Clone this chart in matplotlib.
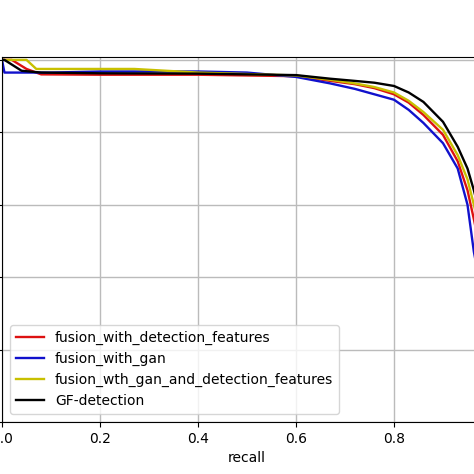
import numpy as np
import matplotlib
matplotlib.use("Agg")
import matplotlib.pyplot as plt

# precision-recall curves
red_r = [0.0, 0.02, 0.05, 0.08, 0.2, 0.4, 0.6, 0.67, 0.72, 0.76, 0.8, 0.83, 0.86, 0.9, 0.93, 0.95, 0.963, 0.98, 1.0]
red_p = [1.0, 1.0, 0.975, 0.96, 0.959, 0.959, 0.955, 0.942, 0.933, 0.922, 0.905, 0.882, 0.848, 0.793, 0.72, 0.64, 0.56, 0.45, 0.3]
blue_r = [0.0, 0.005, 0.1, 0.2, 0.4, 0.5, 0.6, 0.67, 0.72, 0.76, 0.8, 0.83, 0.86, 0.9, 0.93, 0.95, 0.963, 0.98, 1.0]
blue_p = [1.0, 0.965, 0.965, 0.968, 0.968, 0.965, 0.953, 0.935, 0.92, 0.905, 0.89, 0.862, 0.826, 0.77, 0.70, 0.60, 0.47, 0.35, 0.2]
yel_r = [0.0, 0.05, 0.07, 0.27, 0.4, 0.6, 0.67, 0.72, 0.76, 0.8, 0.83, 0.86, 0.9, 0.93, 0.95, 0.963, 0.98, 1.0]
yel_p = [1.0, 1.0, 0.975, 0.975, 0.965, 0.957, 0.945, 0.935, 0.925, 0.91, 0.887, 0.856, 0.807, 0.737, 0.67, 0.60, 0.5, 0.35]
blk_r = [0.0, 0.005, 0.04, 0.08, 0.2, 0.4, 0.6, 0.67, 0.72, 0.76, 0.8, 0.83, 0.86, 0.9, 0.93, 0.95, 0.963, 0.98, 1.0]
blk_p = [1.0, 1.0, 0.97, 0.965, 0.963, 0.962, 0.958, 0.948, 0.942, 0.937, 0.928, 0.91, 0.884, 0.829, 0.76, 0.70, 0.64, 0.55, 0.4]

fig = plt.figure(figsize=(4.74, 4.74), dpi=100)
ax = fig.add_axes([2 / 474, (474 - 422) / 474, 490 / 474, 365 / 474])
ax.plot(red_r, red_p, color="#dd1111", lw=1.7, label="fusion_with_detection_features")
ax.plot(blue_r, blue_p, color="#1111cc", lw=1.7, label="fusion_with_gan")
ax.plot(yel_r, yel_p, color="#c8c000", lw=1.7, label="fusion_wth_gan_and_detection_features")
ax.plot(blk_r, blk_p, color="black", lw=1.7, label="GF-detection")
ax.set_xlim(0, 1)
ax.set_ylim(0, 1.008)
ax.set_xticks([0.0, 0.2, 0.4, 0.6, 0.8, 1.0])
ax.set_yticks([0.0, 0.2, 0.4, 0.6, 0.8, 1.0])
ax.grid(True, color="#bbbbbb", lw=1)
ax.tick_params(labelsize=10)
ax.set_xlabel("recall", fontsize=10)
ax.legend(loc="lower left", fontsize=10, borderaxespad=0.6)
fig.savefig("out.png", dpi=100)
